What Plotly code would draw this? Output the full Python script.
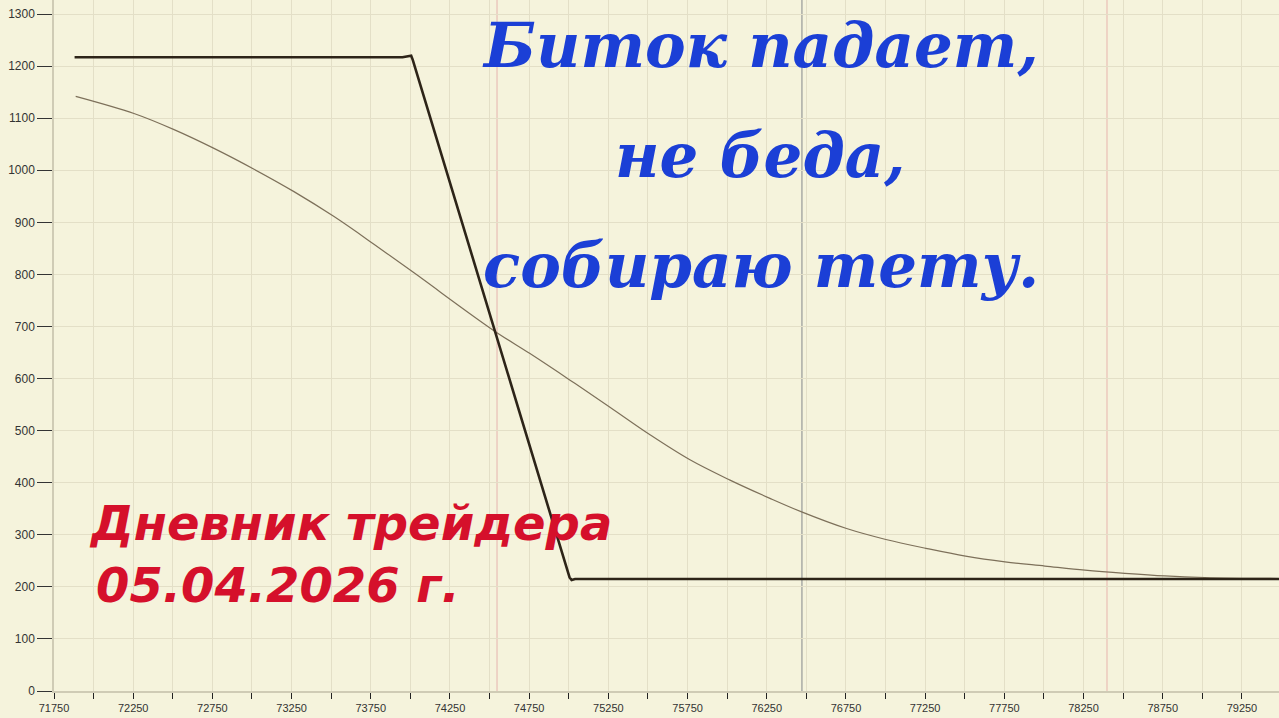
import plotly.graph_objects as go

# Payoff (thick) line
payoff_x = [71880, 73950, 73985, 74005, 74015, 75005, 75018, 75040, 79484]
payoff_y = [1217, 1217, 1219, 1220, 1212, 218, 213, 215, 215]

# Theoretical value (thin) curve
curve_x = [71887, 72255, 72508, 72760, 73013, 73265, 73518, 73770, 74023, 74523, 74755,
           75008, 75260, 75513, 75765, 76018, 76270, 76470, 76754, 77002, 77255, 77505,
           77754, 78006, 78259, 78511, 78764, 79016, 79484]
curve_y = [1142, 1109, 1078, 1042, 1002, 959, 911, 858, 803, 693, 648,
           597, 545, 492, 444, 405, 370, 344, 312, 291, 274, 259,
           248, 240, 232, 226, 221, 218, 216]

# Vertical marker lines
marker_x = [74547, 76472, 78398]
marker_colors = ["#ebc9bd", "#a9aba6", "#ebc9bd"]

blue_lines = ["Биток падает,", "не беда,", "собираю тету."]
blue_y = [1240, 1029, 818]
red_lines = ["Дневник трейдера", "05.04.2026 г."]
red_y = [322, 203]
red_left = [71960, 72000]

bg = "#f5f3dc"
grid = "#e3dfc7"

fig = go.Figure()
fig.add_trace(go.Scatter(x=curve_x, y=curve_y, mode="lines", line=dict(color="#7d705a", width=1.2, shape="spline"),
                         hoverinfo="skip"))
fig.add_trace(go.Scatter(x=payoff_x, y=payoff_y, mode="lines", line=dict(color="#2d2418", width=2.6),
                         hoverinfo="skip"))

for mx, mc in zip(marker_x, marker_colors):
    fig.add_shape(type="line", x0=mx, x1=mx, yref="paper", y0=0, y1=1, xref="x",
                  line=dict(color=mc, width=1.5), layer="below")

for txt, yy in zip(blue_lines, blue_y):
    fig.add_annotation(x=76213, y=yy, text="<b><i>" + txt + "</i></b>", showarrow=False, xanchor="center",
                       yanchor="middle", font=dict(family="DejaVu Serif", size=61, color="#1b3fd6"))

for txt, yy, xx in zip(red_lines, red_y, red_left):
    fig.add_annotation(x=xx, y=yy, text="<b><i>" + txt + "</i></b>", showarrow=False, xanchor="left",
                       yanchor="middle", font=dict(family="DejaVu Sans", size=48, color="#d5102b"))

fig.update_layout(
    width=1279, height=718,
    margin=dict(l=54, r=0, t=0, b=27, autoexpand=False),
    paper_bgcolor=bg, plot_bgcolor=bg,
    showlegend=False,
    font=dict(family="Liberation Sans", color="#333333"),
)
fig.update_xaxes(range=[71750, 79484], tick0=71750, dtick=500, tickformat="d", ticks="outside", ticklen=6,
                 tickwidth=1.2, tickcolor="#222222", showgrid=True, gridcolor=grid, gridwidth=1,
                 showline=True, linecolor="#cfcbb5", linewidth=1.5, zeroline=False, automargin=False,
                 tickfont=dict(size=11, color="#333333"),
                 minor=dict(dtick=250, tick0=71750, ticks="outside", ticklen=6, tickcolor="#222222",
                            showgrid=True, gridcolor=grid))
fig.update_yaxes(range=[0, 1327], tick0=0, dtick=100, ticks="outside", ticklen=15, tickwidth=1.2,
                 tickcolor="#333333", showgrid=True, gridcolor=grid, gridwidth=1, automargin=False,
                 showline=True, linecolor="#cfcbb5", linewidth=1.5, zeroline=False,
                 tickfont=dict(size=12, color="#333333"))

fig.write_html("out.html", config={"displayModeBar": False},
               post_script="document.body.style.margin='0';document.body.style.overflow='hidden';"
                           "document.body.style.background='" + bg + "';")
